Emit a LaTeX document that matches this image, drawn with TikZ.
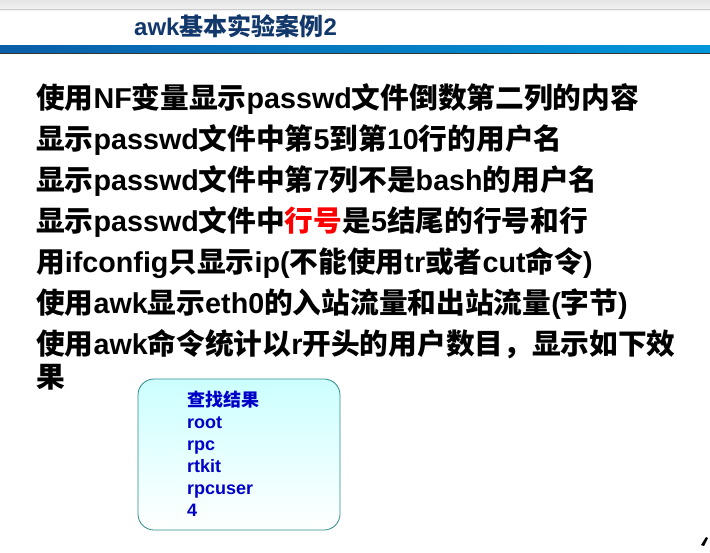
\documentclass[tikz,border=0pt]{standalone}
\usepackage{fontspec}
\setmainfont{Liberation Sans}
\newfontfamily\cjk{Noto Sans CJK SC}
\newcommand{\zh}[1]{{\cjk\bfseries #1}}
\definecolor{titleblue}{HTML}{12386B}
\definecolor{boxtext}{HTML}{0000C8}
\definecolor{boxedge}{HTML}{2E8B8B}
\definecolor{bandA}{HTML}{0A5FA8}
\definecolor{bandB}{HTML}{0096DA}
\begin{document}
\begin{tikzpicture}[x=1pt,y=-1pt,
  line/.style={anchor=base west,font=\fontsize{28.7}{32}\selectfont\bfseries,inner sep=0pt},
  boxline/.style={anchor=base west,font=\fontsize{18}{20}\selectfont\bfseries,text=boxtext,inner sep=0pt}]
\useasboundingbox (0,0) rectangle (710,552);
\fill[white] (0,0) rectangle (710,552);
\shade[top color=gray!20,bottom color=gray!10] (0,0) rectangle (710,10);
\fill[gray!40] (0,9) rectangle (710,10);
\shade[left color=bandA,right color=bandB] (0,45) rectangle (710,53);
\draw[black!80,line width=0.8pt] (0,53) -- (710,53);
\node[anchor=base west,inner sep=0pt,text=titleblue,font=\fontsize{24}{26}\selectfont\bfseries] (title) at (134,35) {awk\zh{基本实验案例}2};
\node[line] (l1) at (36,108) {\zh{使用}NF\zh{变量显示}passwd\zh{文件倒数第二列的内容}};
\node[line] (l2) at (36,149) {\zh{显示}passwd\zh{文件中第}5\zh{到第}10\zh{行的用户名}};
\node[line] (l3) at (36,190) {\zh{显示}passwd\zh{文件中第}7\zh{列不是}bash\zh{的用户名}};
\node[line] (l4) at (36,231) {\zh{显示}passwd\zh{文件中}\textcolor{red}{\zh{行号}}\zh{是}5\zh{结尾的行号和行}};
\node[line] (l5) at (36,272) {\zh{用}ifconfig\zh{只显示}ip(\zh{不能使用}tr\zh{或者}cut\zh{命令})};
\node[line] (l6) at (36,313) {\zh{使用}awk\zh{显示}eth0\zh{的入站流量和出站流量}(\zh{字节})};
\node[line] (l7) at (36,354) {\zh{使用}awk\zh{命令统计以}r\zh{开头的用户数目，显示如下效}};
\node[line] (l8) at (36,387) {\zh{果}};
\shade[top color=cyan!20,bottom color=white,rounded corners=16pt] (138,379) rectangle (340,530);
\draw[boxedge,rounded corners=16pt,line width=0.8pt] (138,379) rectangle (340,530);
\node[boxline] (b1) at (187,406) {\zh{查找结果}};
\node[boxline] (b2) at (187,428) {root};
\node[boxline] (b3) at (187,450) {rpc};
\node[boxline] (b4) at (187,472) {rtkit};
\node[boxline] (b5) at (187,494) {rpcuser};
\node[boxline] (b6) at (187,516) {4};
\fill[black] (701,545) -- (706,537) -- (708,538) -- (704,546) -- cycle;
\end{tikzpicture}
\end{document}
